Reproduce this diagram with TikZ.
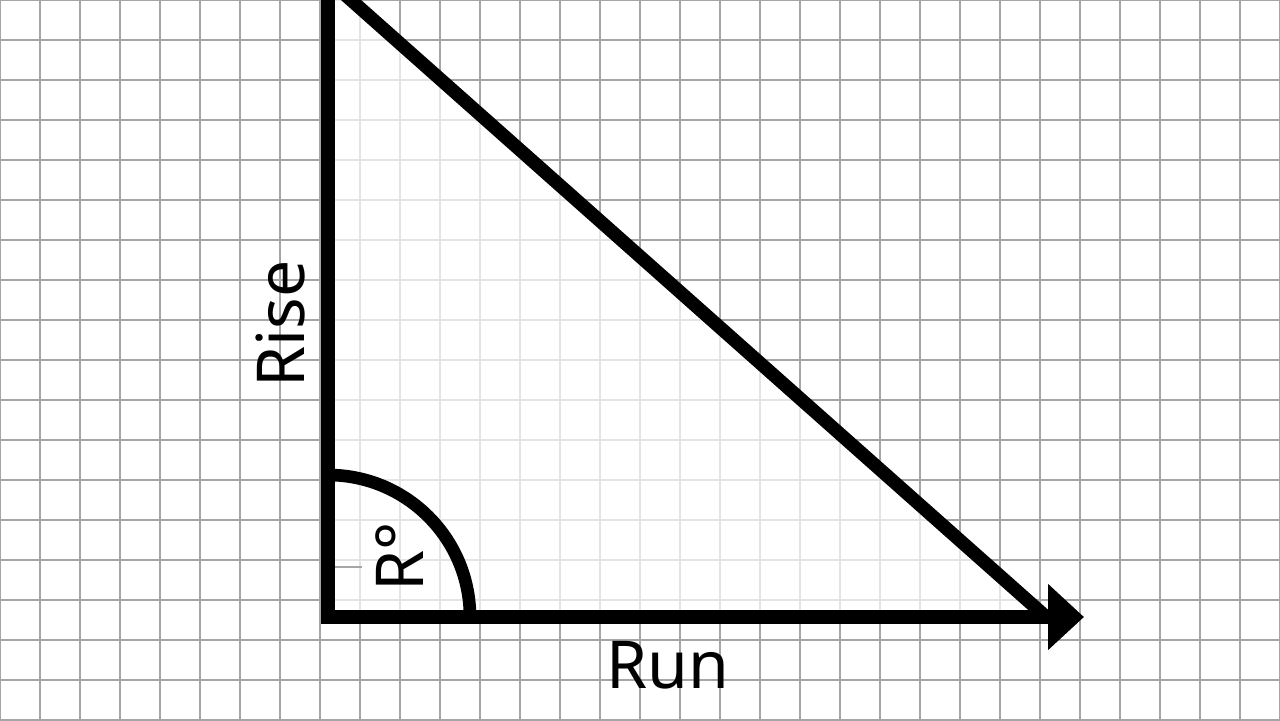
\documentclass[tikz,border=0pt]{standalone}
\usepackage{fontspec}
\setmainfont{Noto Sans}
\usetikzlibrary{arrows.meta,positioning}

\begin{document}
\begin{tikzpicture}[
        x=1cm, y=1cm,
        gridline/.style={draw=gray!70, line width=0.9pt},
        side/.style={draw=black, line width=9.5pt, miter limit=10},
        anglemark/.style={draw=black, line width=9pt},
        lbl/.style={font=\fontsize{47}{56}\selectfont, inner sep=0pt}
    ]

    % paper grid
    \useasboundingbox (0,0) rectangle (32,18);
    \fill[white] (0,0) rectangle (32,18);
    \foreach \gx in {0,...,32} \draw[gridline] (\gx,0) -- (\gx,18);
    \foreach \gy in {0,...,18} \draw[gridline] (0,\gy) -- (32,\gy);

    % corner points
    \coordinate (corner) at (8.2,2.575);
    \coordinate (top) at (8.2,18.2);
    \coordinate (tip) at (27.1,2.575);
    \coordinate (hyptop) at (8.55,18.2);
    \coordinate (hypend) at (26.15,2.58);

    % faded grid inside the triangle
    \fill[white, opacity=0.7] (corner) -- (8.2,18) -- (8.6,18) -- (hypend) -- cycle;

    % sides
    \draw[side] (hyptop) -- (hypend);
    \draw[side, -{Triangle[length=0.9cm, width=1.6cm]}] (top) -- (corner) -- (tip);

    % angle mark
    \draw[anglemark] ([xshift=3.55cm]corner) arc[start angle=0, end angle=90, radius=3.55cm];
    \draw[gray!70, line width=0.8pt] (8.375,3.825) -- (9.05,3.825);

    % labels
    \node[lbl, rotate=90] (angle) at (10.0,4.075) {R°};
    \node[lbl, rotate=90] (rise) at (7.0,9.9) {Rise};
    \node[lbl] (run) at (16.7,1.375) {Run};

\end{tikzpicture}
\end{document}
